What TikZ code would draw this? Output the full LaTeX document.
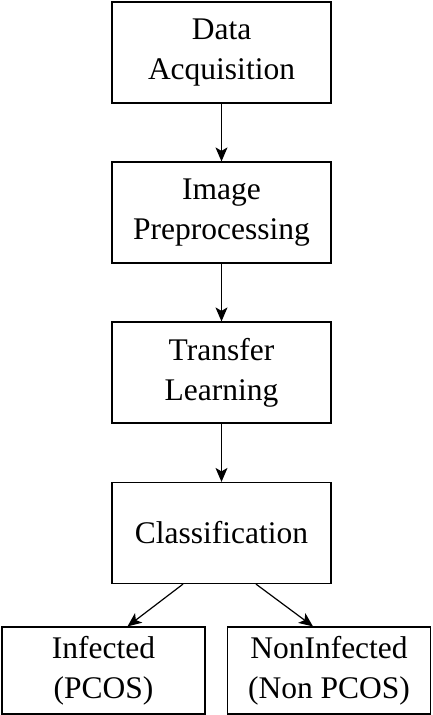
\documentclass[tikz,border=0pt]{standalone}
\usepackage{fontspec}
\setmainfont{Liberation Serif}
\usetikzlibrary{arrows.meta}

\tikzset{
    stage/.style={draw=black, line width=1.2pt, align=center, inner sep=0pt,
        minimum width=219pt, minimum height=101pt,
        font=\fontsize{31.5}{40}\selectfont},
    result/.style={stage, minimum width=203pt, minimum height=87pt},
    flow/.style={line width=1.2pt, -{Stealth[length=14pt,width=12pt,inset=3.5pt]}}
}

\begin{document}
\begin{tikzpicture}[x=1pt,y=1pt]
        \useasboundingbox (0,0) rectangle (433,-715);
        \node[stage]  (acq) at (221.5,-52.5)  {Data\\Acquisition};
        \node[stage]  (pre) at (221.5,-212.5) {Image\\Preprocessing};
        \node[stage]  (tl)  at (221.5,-372.5) {Transfer\\Learning};
        \node[stage]  (cls) at (221.5,-533)   {Classification};
        \node[result] (inf) at (103.5,-670.5) {Infected\\(PCOS)};
        \node[result] (non) at (329,-670.5)   {NonInfected\\(Non PCOS)};
        \draw[flow] (acq) -- (pre);
        \draw[flow] (pre) -- (tl);
        \draw[flow] (tl)  -- (cls);
        \draw[flow] ([xshift=-38.5pt]cls.south) -- ([xshift=24pt]inf.north);
        \draw[flow] ([xshift=34.5pt]cls.south)  -- ([xshift=-16pt]non.north);
    \end{tikzpicture}
\end{document}
